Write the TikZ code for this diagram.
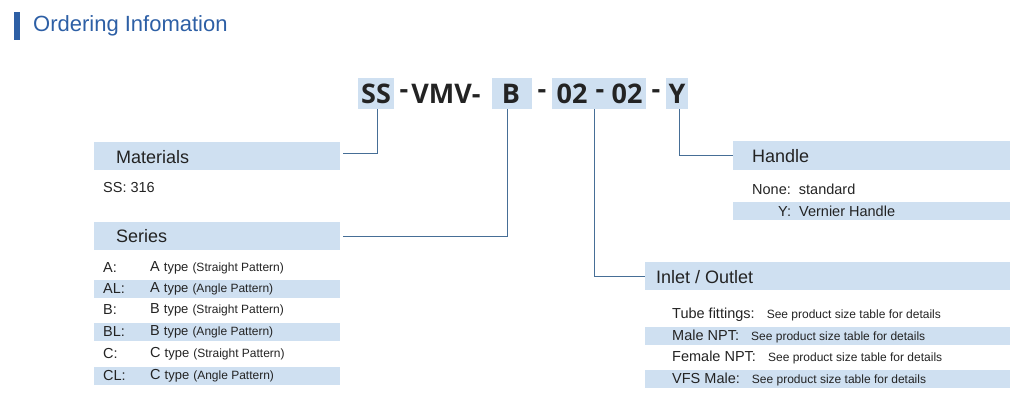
\documentclass[tikz,border=0pt]{standalone}
\usepackage{fontspec}
\setmainfont{Liberation Sans}
\newfontfamily\codefont{Open Sans}
\newcommand\smf{\fontsize{12}{14}\selectfont}
\definecolor{bar}{RGB}{207,224,241}
\definecolor{ln}{RGB}{70,110,150}
\definecolor{ttl}{RGB}{45,95,165}
\definecolor{tx}{RGB}{35,35,35}
\begin{document}
\begin{tikzpicture}[x=1pt,y=-1pt,
  hdr/.style={anchor=west,font=\fontsize{18}{20}\selectfont,text=tx,inner sep=0},
  row/.style={anchor=west,font=\fontsize{14.5}{16}\selectfont,text=tx,inner sep=0},
  code/.style={font=\codefont\bfseries\fontsize{27}{30}\selectfont,text=tx,inner sep=0,anchor=center},
  conn/.style={draw=ln,line width=1pt}]
\useasboundingbox (0,0) rectangle (1030,410);
% title
\fill[ttl] (14,12) rectangle (20,40);
\node[anchor=west,inner sep=0,text=ttl,font=\fontsize{22}{24}\selectfont] (title) at (33,26) {Ordering Infomation};
% code boxes
\fill[bar] (358,78) rectangle (394,109);
\fill[bar] (492,78) rectangle (532,109);
\fill[bar] (552,78) rectangle (646,109);
\fill[bar] (666,78) rectangle (688,109);
\node[code] (ss) at (376,94) {SS};
\node[code] (d1) at (404,94) {-};
\node[code] (vmv) at (446,94) {VMV-};
\node[code] (b) at (511,94) {B};
\node[code] (d2) at (542,94) {-};
\node[code] (c1) at (572,94) {02};
\node[code] (d3) at (600,94) {-};
\node[code] (c2) at (627,94) {02};
\node[code] (d4) at (656,94) {-};
\node[code] (y) at (677,94) {Y};
% bars
\fill[bar] (94,142) rectangle (340,170);
\fill[bar] (94,222) rectangle (340,250);
\fill[bar] (733,141) rectangle (1010,170);
\fill[bar] (645,262) rectangle (1010,290);
\fill[bar] (94,280) rectangle (340,298);
\fill[bar] (94,323) rectangle (340,341);
\fill[bar] (94,367) rectangle (340,385);
\fill[bar] (733,202) rectangle (1010,220);
\fill[bar] (645,327) rectangle (1010,345);
\fill[bar] (645,370) rectangle (1010,388);
\coordinate (mat) at (343,153);
\coordinate (ser) at (343,236);
\coordinate (io) at (645,276);
\coordinate (hd) at (733,155);
\coordinate (ssb) at (377,109);
\coordinate (bb) at (507,109);
\coordinate (cb) at (594,109);
\coordinate (yb) at (679,109);
\node[hdr] (matl) at (116,157) {Materials};
\node[hdr] (serl) at (116,236) {Series};
\node[hdr] (hdl) at (752,156) {Handle};
\node[hdr] (iol) at (656,277) {Inlet / Outlet};
\node[row] at (103,188) {SS:\ 316};
% series rows
\foreach \yy/\kk/\ty/\pp in {268/A:/A/Straight,289/AL:/A/Angle,310/B:/B/Straight,332/BL:/B/Angle,354/C:/C/Straight,376/CL:/C/Angle}{
  \node[row] at (103,\yy) {\kk};
  \node[row] at (150,\yy) {\ty\ {\fontsize{13}{14}\selectfont type} {\smf(\pp\ Pattern)}};
}
\node[row] at (752,189) {None:\ \ standard};
\node[row] at (778,211) {Y:\ \ Vernier Handle};
\node[row] at (672,315) {Tube fittings:\ \ \ {\smf See product size table for details}};
\node[row] at (672,336) {Male NPT:\ \ \ {\smf See product size table for details}};
\node[row] at (672,357) {Female NPT:\ \ \ {\smf See product size table for details}};
\node[row] at (672,379) {VFS Male:\ \ \ {\smf See product size table for details}};
% connectors
\draw[conn] (ssb) |- (mat);
\draw[conn] (bb) |- (ser);
\draw[conn] (cb) |- (io);
\draw[conn] (yb) |- (hd);
\end{tikzpicture}
\end{document}
